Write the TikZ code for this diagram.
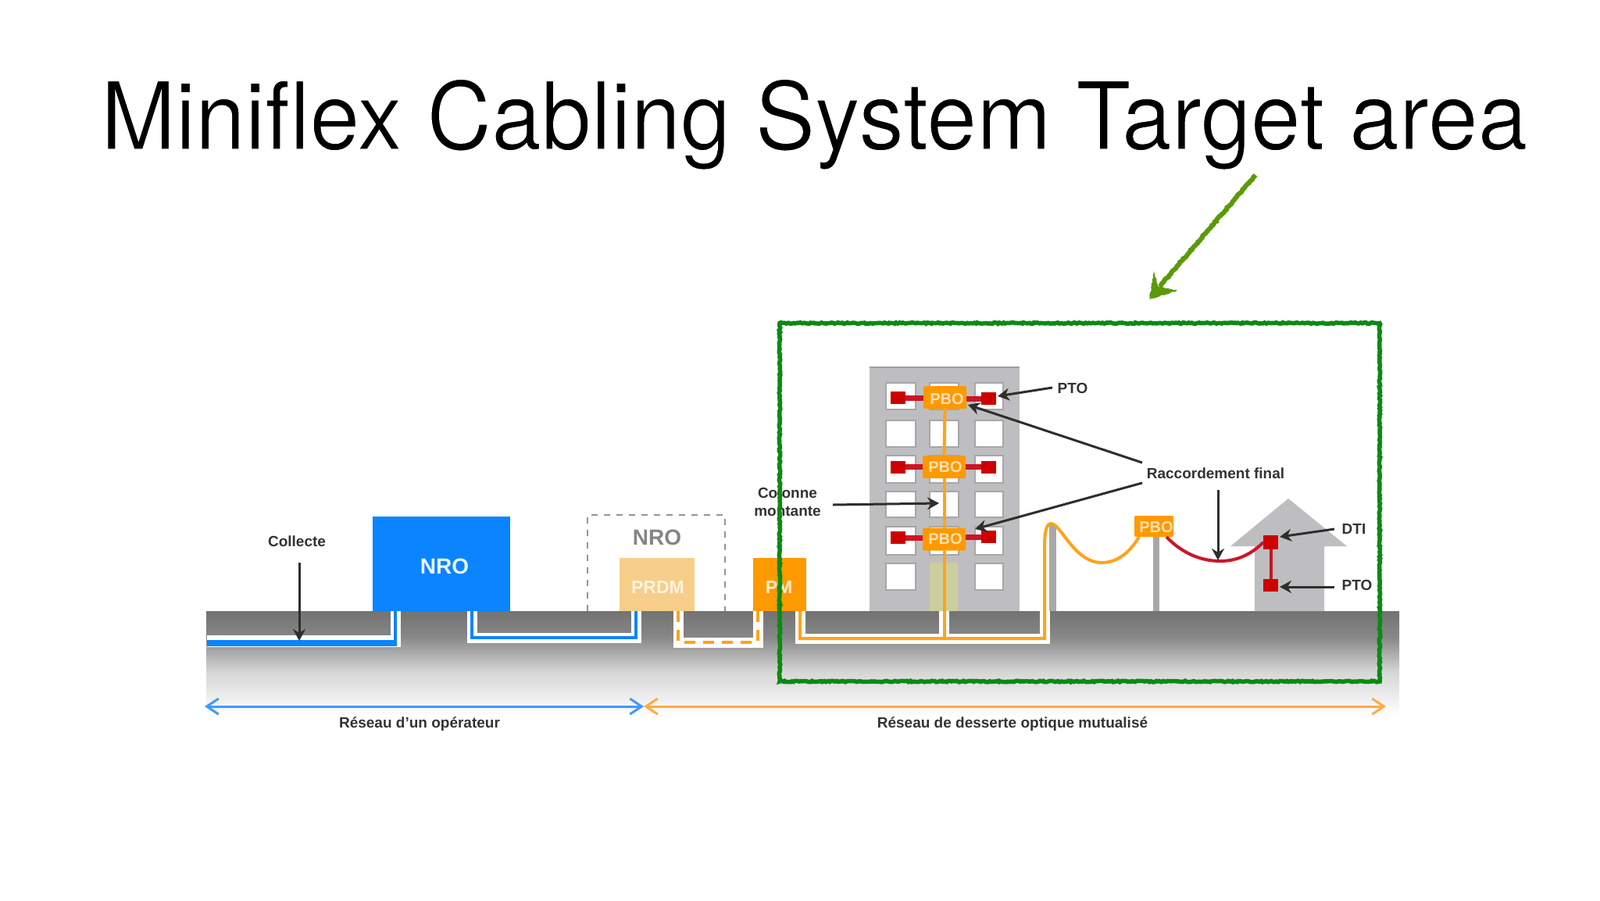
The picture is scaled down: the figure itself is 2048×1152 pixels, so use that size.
\documentclass[tikz,border=0pt]{standalone}
\usepackage{fontspec}
\setmainfont{Liberation Sans}
\newfontfamily\titlefont[FakeStretch=0.955]{TeX Gyre Heros}
\usetikzlibrary{arrows.meta,decorations.pathmorphing}
\definecolor{nroblue}{HTML}{0A84FF}
\definecolor{spanblue}{HTML}{3D9BFF}
\definecolor{pmorange}{HTML}{FF9900}
\definecolor{fibre}{HTML}{FFA31A}
\definecolor{spanorange}{HTML}{FFAA44}
\definecolor{prdmfill}{HTML}{F7CE89}
\definecolor{redbox}{HTML}{CC0000}
\definecolor{redline}{HTML}{CC1525}
\definecolor{bldg}{HTML}{BEBEC0}
\definecolor{winedge}{HTML}{A6A6A8}
\definecolor{doorfill}{HTML}{CDCE9E}
\definecolor{pole}{HTML}{A8A8A8}
\definecolor{handgreen}{HTML}{0B8A12}
\definecolor{handlime}{HTML}{5A9A08}
\definecolor{labelgrey}{HTML}{333333}
\tikzset{
  x=1pt,y=-1pt,
  boxnode/.style={inner sep=0,outer sep=0,anchor=center},
  lab/.style={inner sep=0,outer sep=0,font=\fontsize{19}{19}\selectfont\bfseries,text=labelgrey,align=center},
  big/.style={inner sep=0,font=\fontsize{28}{28}\selectfont\bfseries},
  mid/.style={inner sep=0,font=\fontsize{23}{23}\selectfont\bfseries,text=white},
  pbo/.style={boxnode,fill=pmorange,rounded corners=2pt,minimum width=55pt,minimum height=29pt},
  pbotext/.style={inner sep=0,text=white!70!pmorange,font=\fontsize{20}{20}\selectfont\bfseries},
  redsq/.style={boxnode,fill=redbox,minimum width=19pt,minimum height=16pt},
  channel/.style={draw=white,line width=13pt,line join=miter},
  bluecable/.style={draw=nroblue,line width=4.5pt},
  orangecable/.style={draw=fibre,line width=4pt},
  redcable/.style={draw=redline,line width=4pt},
  callout/.style={draw=black!82,line width=3pt,-{Stealth[length=15pt,width=16pt]}},
  span/.style={line width=3pt,{Straight Barb[length=15pt,width=20pt]}-{Straight Barb[length=15pt,width=20pt]}},
  rough/.style={decorate,decoration={random steps,segment length=2.2pt,amplitude=0.8pt}},
  window/.style={draw=winedge,fill=white,line width=2.4pt},
}
\begin{document}
\begin{tikzpicture}
\useasboundingbox (0,0) rectangle (2048,1152);
\fill[white] (0,0) rectangle (2048,1152);

% title
\node[anchor=base west,inner sep=0,font=\titlefont\fontsize{120}{120}\selectfont] (title) at (129,191) {\special{pdf:code 2 Tr 1 1 1 RG 1.2 w}Miniflex Cabling System Target area\special{pdf:code 0 Tr 0 0 0 RG 1 w}};

% ground
\fill[top color=black!55,bottom color=black!47] (264,782) rectangle (1791,815);
\fill[top color=black!47,bottom color=black!16] (264,815) rectangle (1791,860);
\fill[top color=black!16,bottom color=white] (264,860) rectangle (1791,916);

% buried channels, end points
\coordinate (bA0) at (265,822.5);
\coordinate (bA1) at (506,822.5);
\coordinate (bA2) at (506,782);
\coordinate (bB0) at (604,782);
\coordinate (bB1) at (604,816);
\coordinate (bB2) at (814,816);
\coordinate (bB3) at (814,782);
\coordinate (oC0) at (868,782);
\coordinate (oC1) at (868,822);
\coordinate (oC2) at (970,822);
\coordinate (oC3) at (970,782);
\coordinate (oD0) at (1024,782);
\coordinate (oD1) at (1024,817);
\coordinate (oD2) at (1337,817);
\coordinate (oD3) at (1337,782);
\coordinate (oJ) at (1208,817);
\coordinate (oK) at (1208,782);

\draw[channel,line width=15pt] (265,820.5) -- (513,820.5);
\draw[channel] (bA2) -- (506,828);
\draw[channel] (bB0) -- (bB1) -- (bB2) -- (bB3);
\draw[channel] (oC0) -- (oC1) -- (oC2) -- (oC3);
\draw[channel] (oD0) -- (oD1) -- (oD2) -- (oD3);
\draw[channel] (oK) -- (oJ);
\draw[bluecable,line width=8pt] (bA0) -- (508,822.5);
\draw[bluecable] (506,822) -- (bA2);
\draw[bluecable] (bB0) -- (bB1) -- (bB2) -- (bB3);
\draw[orangecable,line width=4.5pt,dash pattern=on 14pt off 10pt] (oC0) -- (oC1) -- (oC2) -- (oC3);

% poles
\fill[pole] (1343,672) rectangle (1352,782);
\fill[pole] (1476,687) rectangle (1484,782);

% building
\fill[bldg] (1113,469) rectangle (1305,782);
\draw[black!38,line width=1.5pt] (1113,470) -- (1305,470);
\foreach \xa/\xb in {1134/1172,1190/1227,1248/1284}
  \foreach \ya/\yb in {490/524,538/572,583/618,629/662,674/710}
    \draw[window] (\xa,\ya) rectangle (\xb,\yb);
\foreach \xa/\xb in {1134/1172,1248/1284}
  \draw[window] (\xa,721) rectangle (\xb,755);
\fill[doorfill] (1190,720) rectangle (1226,782);

% house
\fill[bldg] (1649,638) -- (1724,699) -- (1695,699) -- (1695,782) -- (1606,782) -- (1606,699) -- (1575,699) -- cycle;

% equipment boxes
\node[boxnode,fill=nroblue,minimum width=176pt,minimum height=121pt] (nroA) at (565,721.5) {};
\node[big,text=white!92!nroblue] (nroAt) at (569,725) {NRO};
\draw[draw=black!42,line width=2.5pt,dash pattern=on 8pt off 8pt] (752,782) -- (752,659) -- (928,659) -- (928,782);
\node[big,text=black!48] (nroB) at (841,688) {NRO};
\node[boxnode,fill=prdmfill,minimum width=96pt,minimum height=68pt] (prdm) at (841,748) {};
\node[mid,text=white!75!prdmfill] (prdmt) at (842,752) {PRDM};
\node[boxnode,fill=pmorange,minimum width=68pt,minimum height=68pt] (pm) at (998,748) {};
\node[mid,text=white!85!pmorange] (pmt) at (997,752) {PM};

\node[pbo] (pbo1) at (1209.5,508.5) {};
\node[pbo] (pbo2) at (1208.5,597.5) {};
\node[pbo] (pbo3) at (1208.5,690) {};
\node[pbo,minimum width=50pt,minimum height=27pt] (pbo4) at (1477,673.5) {};
\node[pbotext] (pbo1t) at (1212,511) {PBO};
\node[pbotext] (pbo2t) at (1210,598) {PBO};
\node[pbotext] (pbo3t) at (1210,690) {PBO};
\node[pbotext] (pbo4t) at (1480,675) {PBO};

% red sockets
\node[redsq] (s1l) at (1149.5,509) {};
\node[redsq] (s1r) at (1265,510) {};
\node[redsq] (s2l) at (1149.5,597.5) {};
\node[redsq] (s2r) at (1265,597.5) {};
\node[redsq] (s3l) at (1149.5,688) {};
\node[redsq] (s3r) at (1265,687) {};
\node[redsq,minimum width=19pt,minimum height=18pt] (dti) at (1626.5,694) {};
\node[redsq,minimum width=19pt,minimum height=16pt] (pto) at (1626.5,749) {};

\foreach \s/\b in {s1l/pbo1,s2l/pbo2,s3l/pbo3}
  \draw[redcable,line width=7pt] (\s.east) -- (\s.east -| \b.west);
\foreach \s/\b in {s1r/pbo1,s2r/pbo2,s3r/pbo3}
  \draw[redcable,line width=7pt] (\s.west) -- (\s.west -| \b.east);
\draw[redcable] (dti.south) -- (pto.north);
\coordinate (rS) at (1493,687);
\draw[redcable] (rS) .. controls (1515,710) and (1540,718) .. (1562,718) .. controls (1585,718) and (1603,708) .. (dti.west);

% fibres
\draw[orangecable] (pbo1.south) -- (pbo2.north);
\draw[orangecable] (pbo2.south) -- (pbo3.north);
\draw[orangecable] (pbo3.south) -- (pbo3.south |- oJ);
\draw[orangecable] (oD0) -- (oD1) -- (oD2) -- (1337,700) .. controls (1337,676) and (1341,670) .. (1345,670) .. controls (1358,670) and (1375,720) .. (1410,720) .. controls (1432,720) and (1447,705) .. (1458,687);

% labels
\node[lab] (collecte) at (380,693) {Collecte};
\node[lab] (pto1) at (1373,497) {PTO};
\node[lab,font=\fontsize{19}{23}\selectfont\bfseries] (colonne) at (1008,642) {Colonne\\montante};
\node[lab] (racc) at (1556,606) {Raccordement final};
\node[lab] (dtiL) at (1733,677) {DTI};
\node[lab] (ptoL) at (1737,749) {PTO};
\node[lab] (res1) at (537,926) {Réseau d’un opérateur};
\node[lab] (res2) at (1296,926) {Réseau de desserte optique mutualisé};

% callouts
\coordinate (a1s) at (383,720); \coordinate (a1e) at (383,820);
\coordinate (a2s) at (1347,496); \coordinate (a2e) at (1277,507);
\coordinate (a3s) at (1462,592); \coordinate (a3e) at (1239,518);
\coordinate (a4s) at (1462,618); \coordinate (a4e) at (1248,677);
\coordinate (a5s) at (1066,646); \coordinate (a5e) at (1202,644);
\coordinate (a6s) at (1559,627); \coordinate (a6e) at (1559,717);
\coordinate (a7s) at (1708,677); \coordinate (a7e) at (1638,687);
\coordinate (a8s) at (1708,751); \coordinate (a8e) at (1638,751);
\foreach \i in {1,...,8}
  \draw[callout] (a\i s) -- (a\i e);

% spans
\coordinate (spA) at (262,904);
\coordinate (spB) at (824,904);
\coordinate (spC) at (1774,904);
\draw[span,draw=spanblue] (spA) -- (spB);
\draw[span,draw=spanorange] (spB) -- (spC);

% hand-drawn green box and arrow
\draw[handgreen,line width=5.5pt,rough] (998,413.5) -- (1766,413.5) -- (1766,872) -- (998,872) -- cycle;
\coordinate (gS) at (1607,224);
\coordinate (gT) at (1471,383);
\draw[handlime,line width=6pt,rough] (gS) -- (1484,367);
\fill[handlime,rough] (gT) -- (1477,347) -- (1483,367) -- (1507,372) -- cycle;
\end{tikzpicture}
\end{document}
